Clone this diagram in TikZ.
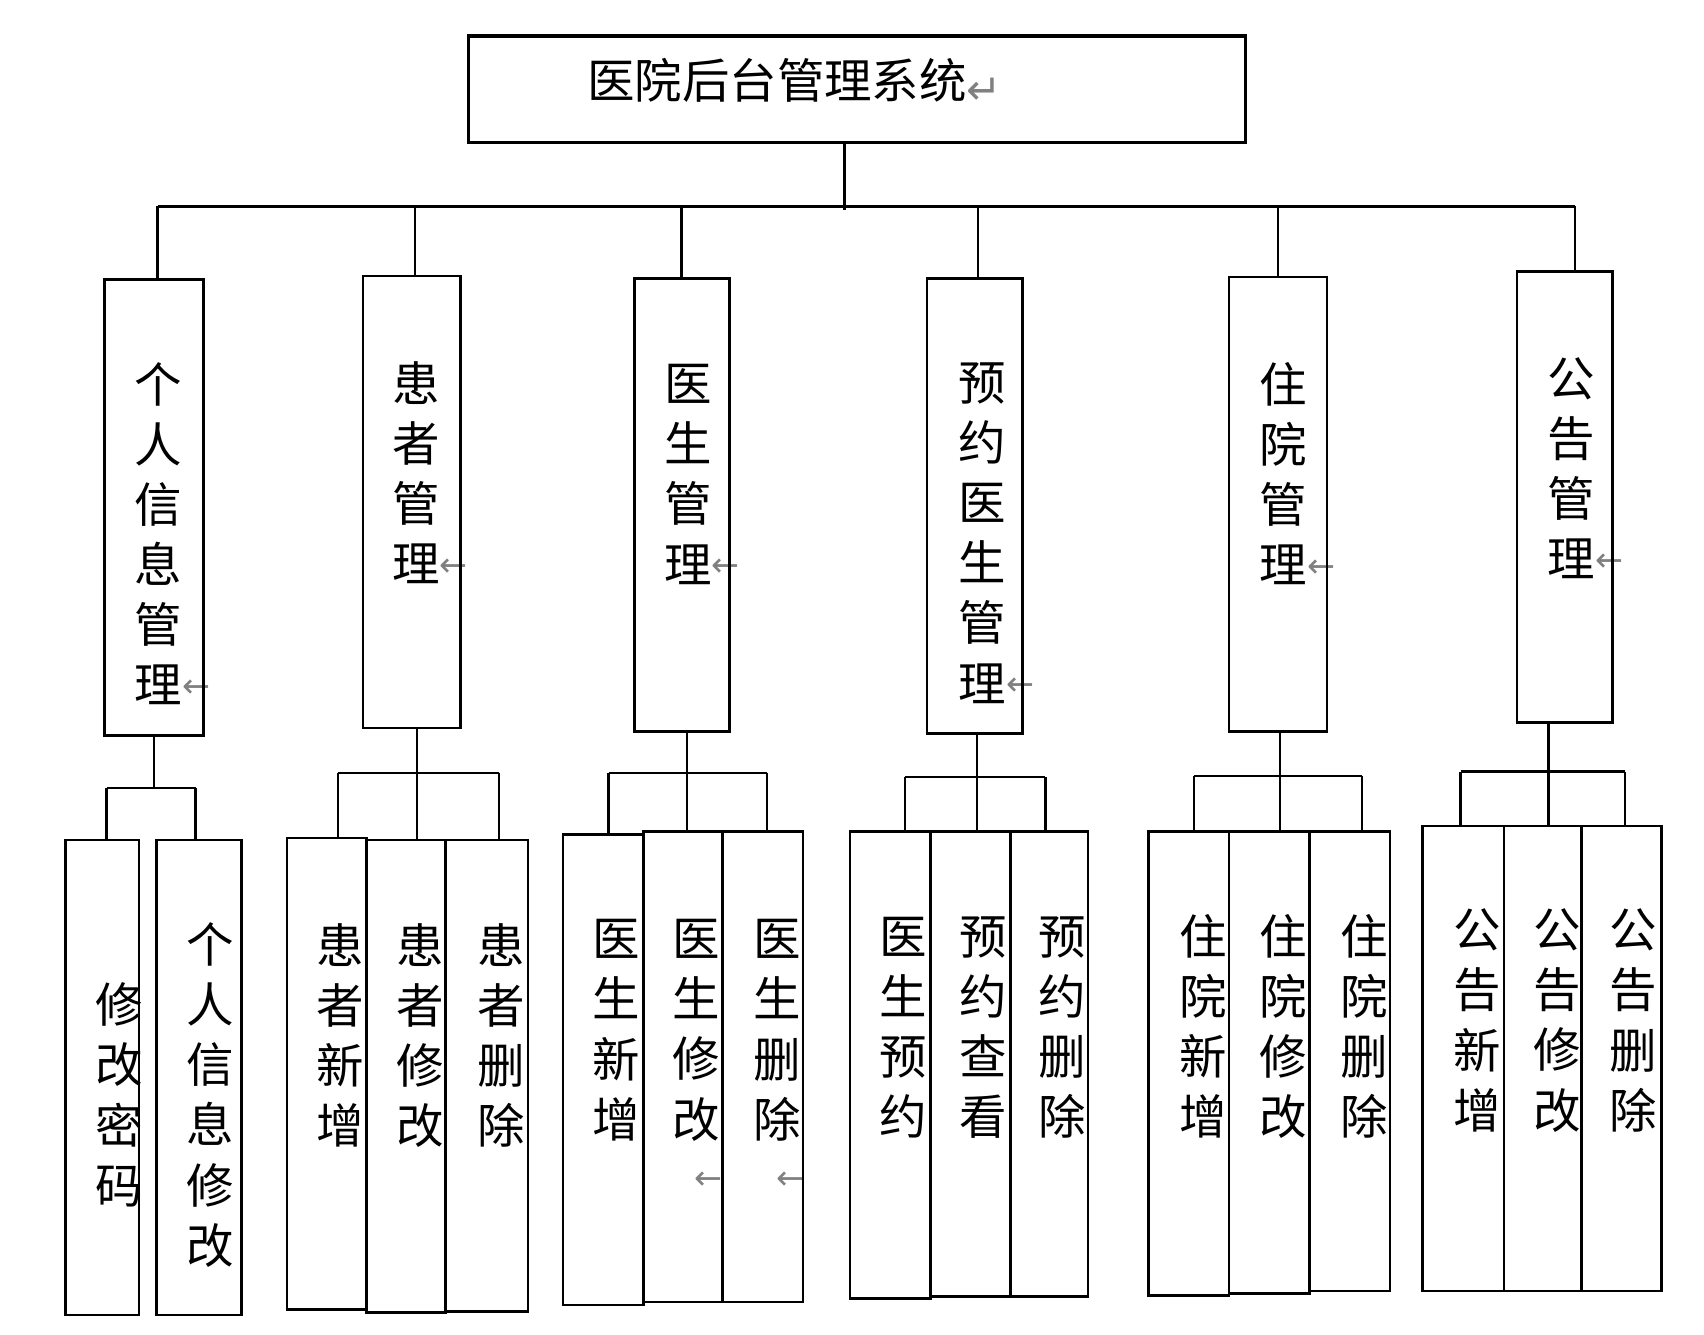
\documentclass[tikz,border=0pt]{standalone}
\usepackage{fontspec}
\newfontfamily\cjk{Noto Sans CJK SC}
\newfontfamily\symf{DejaVu Sans}
\usetikzlibrary{fit}
\newcommand\parmark{\rlap{\raisebox{3pt}{\textcolor{gray}{\symf\fontsize{19}{19}\selectfont ←}}}}
\tikzset{
  box/.style={draw, line width=1.5pt, inner sep=0pt},
  topbox/.style={draw, line width=1.9pt, inner sep=0pt},
  vt/.style={font=\cjk\fontsize{27}{34.2}\selectfont, align=center, inner sep=0pt},
  conn/.style={line width=1.3pt},
  pmark/.style={text=gray, font=\symf\fontsize{19}{19}\selectfont, inner sep=0pt},
}
\begin{document}
\begin{tikzpicture}[x=0.02173cm, y=-0.02173cm]
\useasboundingbox (0,0) rectangle (1568,1228);

% ---------- texts ----------
\node[vt, anchor=west] (title) at (540,75) {医院后台管理系统\raisebox{-3pt}{\textcolor{gray}{\symf\fontsize{24}{24}\selectfont ↵}}};

\node[vt] (t1) at (146,491) {个\\人\\信\\息\\管\\理\parmark};
\node[vt] (t2) at (383,435) {患\\者\\管\\理\parmark};
\node[vt] (t3) at (633,436.5) {医\\生\\管\\理\parmark};
\node[vt] (t4) at (904,490.5) {预\\约\\医\\生\\管\\理\parmark};
\node[vt] (t5) at (1181,435.5) {住\\院\\管\\理\parmark};
\node[vt] (t6) at (1446,431) {公\\告\\管\\理\parmark};

\node[vt] (u11) at (110,1007.5) {修\\改\\密\\码};
\node[vt] (u12) at (193,1007.5) {个\\人\\信\\息\\修\\改};
\node[vt] (u21) at (313,953) {患\\者\\新\\增};
\node[vt] (u22) at (387,953) {患\\者\\修\\改};
\node[vt] (u23) at (461,953) {患\\者\\删\\除};
\node[vt] (u31) at (567,948) {医\\生\\新\\增};
\node[vt] (u32) at (641,948) {医\\生\\修\\改};
\node[vt] (u33) at (715,948) {医\\生\\删\\除};
\node[pmark] (m32) at (652,1086) {←};
\node[pmark] (m33) at (727,1086) {←};
\node[vt] (u41) at (831,945.5) {医\\生\\预\\约};
\node[vt] (u42) at (905,945.5) {预\\约\\查\\看};
\node[vt] (u43) at (977,945.5) {预\\约\\删\\除};
\node[vt] (u51) at (1107,944.5) {住\\院\\新\\增};
\node[vt] (u52) at (1181,944.5) {住\\院\\修\\改};
\node[vt] (u53) at (1255,944.5) {住\\院\\删\\除};
\node[vt] (u61) at (1359,939) {公\\告\\新\\增};
\node[vt] (u62) at (1433,939) {公\\告\\修\\改};
\node[vt] (u63) at (1503,939) {公\\告\\删\\除};

% ---------- boxes ----------
\node[topbox, fit={(431,33) (1146,131)}] (top) {};

\node[box, fit={(96,257) (187,677)}] (b1) {};
\node[box, fit={(334,254) (424,670)}] (b2) {};
\node[box, fit={(584,256) (671,673)}] (b3) {};
\node[box, fit={(853,256) (941,675)}] (b4) {};
\node[box, fit={(1131,255) (1221,673)}] (b5) {};
\node[box, fit={(1396,250) (1484,665)}] (b6) {};

\node[box, fit={(60,773) (128,1210)}] (c11) {};
\node[box, fit={(144,773) (222,1210)}] (c12) {};
\node[box, fit={(264,771) (337,1205)}] (c21) {};
\node[box, fit={(337,773) (410,1208)}] (c22) {};
\node[box, fit={(410,773) (486,1207)}] (c23) {};
\node[box, fit={(518,768) (592,1201)}] (c31) {};
\node[box, fit={(592,765) (665,1198)}] (c32) {};
\node[box, fit={(665,765) (739,1198)}] (c33) {};
\node[box, fit={(782,765) (856,1195)}] (c41) {};
\node[box, fit={(856,765) (930,1193)}] (c42) {};
\node[box, fit={(930,765) (1001,1193)}] (c43) {};
\node[box, fit={(1057,765) (1131,1192)}] (c51) {};
\node[box, fit={(1131,765) (1205,1190)}] (c52) {};
\node[box, fit={(1205,765) (1279,1188)}] (c53) {};
\node[box, fit={(1309,760) (1384,1188)}] (c61) {};
\node[box, fit={(1384,760) (1455,1188)}] (c62) {};
\node[box, fit={(1455,760) (1529,1188)}] (c63) {};

% ---------- level 1 connectors ----------
\coordinate (root) at (777,193);
\coordinate (busL) at (145,190);
\coordinate (busR) at (1449,190);
\draw[conn] (root |- top.south) -- (root);
\draw[conn] (busL) -- (busR);
\coordinate (s1) at (145,190);
\coordinate (s2) at (382,190);
\coordinate (s3) at (627,190);
\coordinate (s4) at (900,190);
\coordinate (s5) at (1176,190);
\coordinate (s6) at (1449,190);
\draw[conn] (s1) -- (s1 |- b1.north);
\draw[conn] (s2) -- (s2 |- b2.north);
\draw[conn] (s3) -- (s3 |- b3.north);
\draw[conn] (s4) -- (s4 |- b4.north);
\draw[conn] (s5) -- (s5 |- b5.north);
\draw[conn] (s6) -- (s6 |- b6.north);

% ---------- level 2 connectors ----------
% group 1
\coordinate (g1) at (142,725);
\coordinate (l1) at (98,725);
\coordinate (r1) at (180,725);
\draw[conn] (g1 |- b1.south) -- (g1);
\draw[conn] (l1) -- (r1);
\draw[conn] (l1) -- (l1 |- c11.north);
\draw[conn] (r1) -- (r1 |- c12.north);
% group 2
\coordinate (g2) at (384,711);
\coordinate (l2) at (311,711);
\coordinate (r2) at (459,711);
\draw[conn] (g2 |- b2.south) -- (g2 |- c22.north);
\draw[conn] (l2) -- (r2);
\draw[conn] (l2) -- (l2 |- c21.north);
\draw[conn] (r2) -- (r2 |- c23.north);
% group 3
\coordinate (g3) at (632,711);
\coordinate (l3) at (560,711);
\coordinate (r3) at (706,711);
\draw[conn] (g3 |- b3.south) -- (g3 |- c32.north);
\draw[conn] (l3) -- (r3);
\draw[conn] (l3) -- (l3 |- c31.north);
\draw[conn] (r3) -- (r3 |- c33.north);
% group 4
\coordinate (g4) at (899,715);
\coordinate (l4) at (833,715);
\coordinate (r4) at (962,715);
\draw[conn] (g4 |- b4.south) -- (g4 |- c42.north);
\draw[conn] (l4) -- (r4);
\draw[conn] (l4) -- (l4 |- c41.north);
\draw[conn] (r4) -- (r4 |- c43.north);
% group 5
\coordinate (g5) at (1178,714);
\coordinate (l5) at (1099,714);
\coordinate (r5) at (1253,714);
\draw[conn] (g5 |- b5.south) -- (g5 |- c52.north);
\draw[conn] (l5) -- (r5);
\draw[conn] (l5) -- (l5 |- c51.north);
\draw[conn] (r5) -- (r5 |- c53.north);
% group 6
\coordinate (g6) at (1425,710);
\coordinate (l6) at (1344,710);
\coordinate (r6) at (1495,710);
\draw[conn] (g6 |- b6.south) -- (g6 |- c62.north);
\draw[conn] (l6) -- (r6);
\draw[conn] (l6) -- (l6 |- c61.north);
\draw[conn] (r6) -- (r6 |- c63.north);
\end{tikzpicture}
\end{document}
